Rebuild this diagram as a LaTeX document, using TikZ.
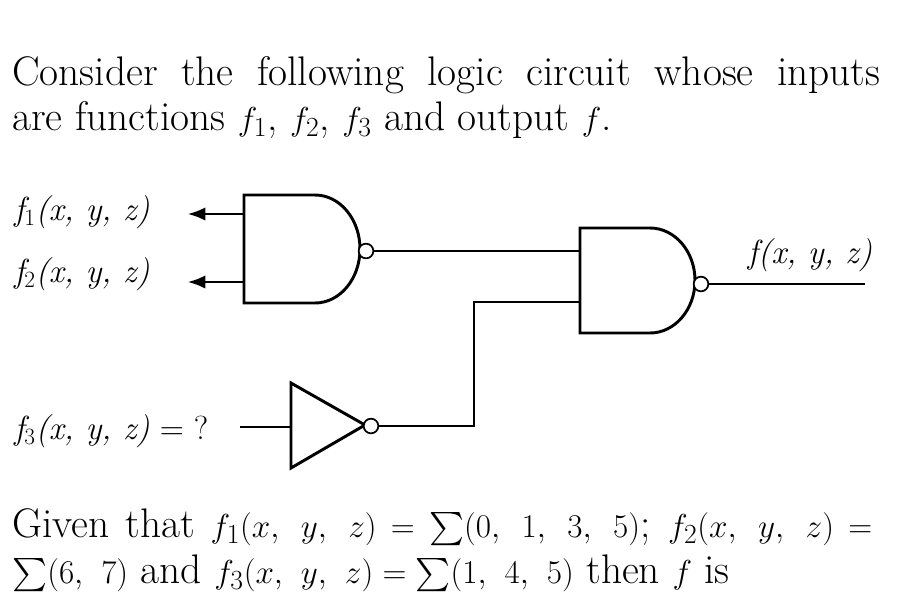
\documentclass[tikz,border=0pt]{standalone}
\usepackage{amsmath}
\usepackage{fontspec}
\usetikzlibrary{arrows.meta}
\tikzset{wire/.style={line width=1.4pt},gate/.style={line width=2.2pt},
bub/.style={circle,draw,line width=1.3pt,inner sep=0pt,minimum size=11pt,fill=white},
lbl/.style={font=\fontsize{25}{28}\selectfont\itshape,inner sep=0pt},
txt/.style={font=\fontsize{31}{36}\selectfont,inner sep=0pt,anchor=base west}}
\begin{document}
\begin{tikzpicture}[x=0.75pt,y=-0.75pt]
\useasboundingbox (0,0) rectangle (909,611);
% text
\node[txt] (t1) at (12,85) {\makebox[651pt][s]{Consider the following logic circuit whose inputs}};
\node[txt] (t2) at (12,130) {are functions $f_1$, $f_2$, $f_3$ and output $f$.};
\node[txt] (b1) at (12,537) {\makebox[645pt][s]{Given that $f_1(x,\ y,\ z)=\sum(0,\ 1,\ 3,\ 5)$; $f_2(x,\ y,\ z)=$}};
\node[txt] (b2) at (12,583) {$\sum(6,\ 7)$ and $f_3(x,\ y,\ z)=\sum(1,\ 4,\ 5)$ then $f$ is};
% gate 1
\draw[gate] (244,195) -- (315,195) arc[start angle=-90,end angle=90,x radius=45,y radius=54] -- (244,303) -- cycle;
\node[bub] (g1o) at (366,251) {};
\coordinate (g1a) at (244,214);
\coordinate (g1b) at (244,282);
\node[lbl,anchor=west] (l1) at (14,212) {f\textsubscript{\upshape 1}(x, y, z)};
\node[lbl,anchor=west] (l2) at (14,274) {f\textsubscript{\upshape 2}(x, y, z)};
\draw[wire,-{Latex[length=13pt,width=10pt]}] (g1a) -- (188,214);
\draw[wire,-{Latex[length=13pt,width=10pt]}] (g1b) -- (188,282);
% gate 2
\draw[gate] (580,228) -- (650,228) arc[start angle=-90,end angle=90,x radius=45,y radius=52.5] -- (580,333) -- cycle;
\node[bub] (g2o) at (701,284) {};
\coordinate (g2a) at (580,251);
\coordinate (g2b) at (580,302);
\coordinate (out) at (865,284);
\draw[wire] (g1o) -- (g2a);
\draw[wire] (g2o) -- (out);
\node[lbl] (lf) at (810,255) {f(x, y, z)};
% inverter
\draw[gate] (291,383) -- (365,425) -- (291,468) -- cycle;
\node[bub] (io) at (371,426) {};
\coordinate (iin) at (240,427);
\coordinate (c1) at (474,426);
\coordinate (c2) at (474,302);
\draw[wire] (iin) -- (291,427);
\draw[wire] (io) -- (c1) -- (c2) -- (g2b);
\node[lbl,anchor=west] (l3) at (14,431) {f\textsubscript{\upshape 3}(x, y, z)\upshape\ = ?};
\end{tikzpicture}
\end{document}
